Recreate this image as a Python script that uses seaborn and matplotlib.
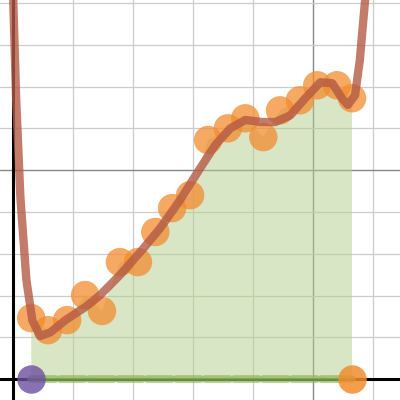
import numpy as np
import pandas as pd
import matplotlib
matplotlib.use("Agg")
import matplotlib.pyplot as plt
import seaborn as sns

sns.set_theme(style="white")

# data points (grid units)
pts_x = [0.30, 0.58, 0.90, 1.20, 1.48, 1.78, 2.08, 2.37, 2.65, 2.95,
         3.25, 3.58, 3.87, 4.17, 4.45, 4.78, 5.07, 5.40, 5.65]
pts_y = [1.46, 1.17, 1.41, 2.01, 1.63, 2.80, 2.80, 3.52, 4.09, 4.40,
         5.72, 6.00, 6.24, 5.79, 6.43, 6.67, 7.03, 7.03, 6.72]

# fitted curve
curve_x = [0.00, 0.05, 0.12, 0.22, 0.32, 0.45, 0.62, 0.87, 1.20, 1.45, 1.78,
           2.12, 2.45, 2.78, 3.12, 3.37, 3.62, 3.87, 4.15, 4.37, 4.62, 4.87,
           5.12, 5.32, 5.48, 5.58, 5.70, 5.78, 5.87]
curve_y = [9.10, 6.68, 4.35, 2.37, 1.40, 1.03, 1.12, 1.41, 1.72, 2.01, 2.49,
           3.04, 3.61, 4.28, 5.05, 5.60, 6.00, 6.20, 6.15, 6.15, 6.31, 6.72,
           7.10, 7.08, 6.72, 6.56, 6.79, 7.63, 9.10]

start_pt = (0.30, 0.0)
end_pt = (5.65, 0.0)

fig, ax = plt.subplots(figsize=(4, 4), dpi=100)
fig.subplots_adjust(0, 0, 1, 1)

# grid
for gx in np.arange(1, 7):
    ax.axvline(gx, color="#888888" if gx == 5 else "#cccccc", lw=1.0 if gx == 5 else 0.9, zorder=0)
for gy in np.arange(1, 10):
    ax.axhline(gy, color="#888888" if gy == 5 else "#cccccc", lw=1.0 if gy == 5 else 0.9, zorder=0)
ax.axvline(0, color="black", lw=2.2, zorder=1)
ax.axhline(0, color="black", lw=2.2, zorder=1)

# filled area under points
poly_x = [pts_x[0]] + pts_x + [pts_x[-1]]
poly_y = [0] + pts_y + [0]
ax.fill(poly_x, poly_y, color="#b5cf8c", alpha=0.5, lw=0, zorder=2)

# dashed baseline
ax.plot([start_pt[0], end_pt[0]], [0, 0], color="#8fb85a", alpha=0.75, lw=5.5,
        ls=(0, (3.2, 0.6)), dash_capstyle="round", zorder=3)

df = pd.DataFrame({"x": pts_x, "y": pts_y})
sns.scatterplot(data=df, x="x", y="y", s=420, color="#f28c2e", alpha=0.75,
                edgecolor="none", ax=ax, zorder=4)

cdf = pd.DataFrame({"x": curve_x, "y": curve_y})
sns.lineplot(data=cdf, x="x", y="y", sort=False, color="#b45a45", alpha=0.8,
             lw=6, ax=ax, zorder=5)

ax.scatter([start_pt[0]], [start_pt[1]], s=420, color="#6c4fa0", alpha=0.8, lw=0, zorder=6)
ax.scatter([end_pt[0]], [end_pt[1]], s=420, color="#f28c2e", alpha=0.85, lw=0, zorder=6)

ax.set_xlim(-0.22, 6.45)
ax.set_ylim(-0.5, 9.07)
ax.set_xticks([])
ax.set_yticks([])
ax.set_xlabel("")
ax.set_ylabel("")
for s in ax.spines.values():
    s.set_visible(False)

fig.savefig("out.png", dpi=100)
